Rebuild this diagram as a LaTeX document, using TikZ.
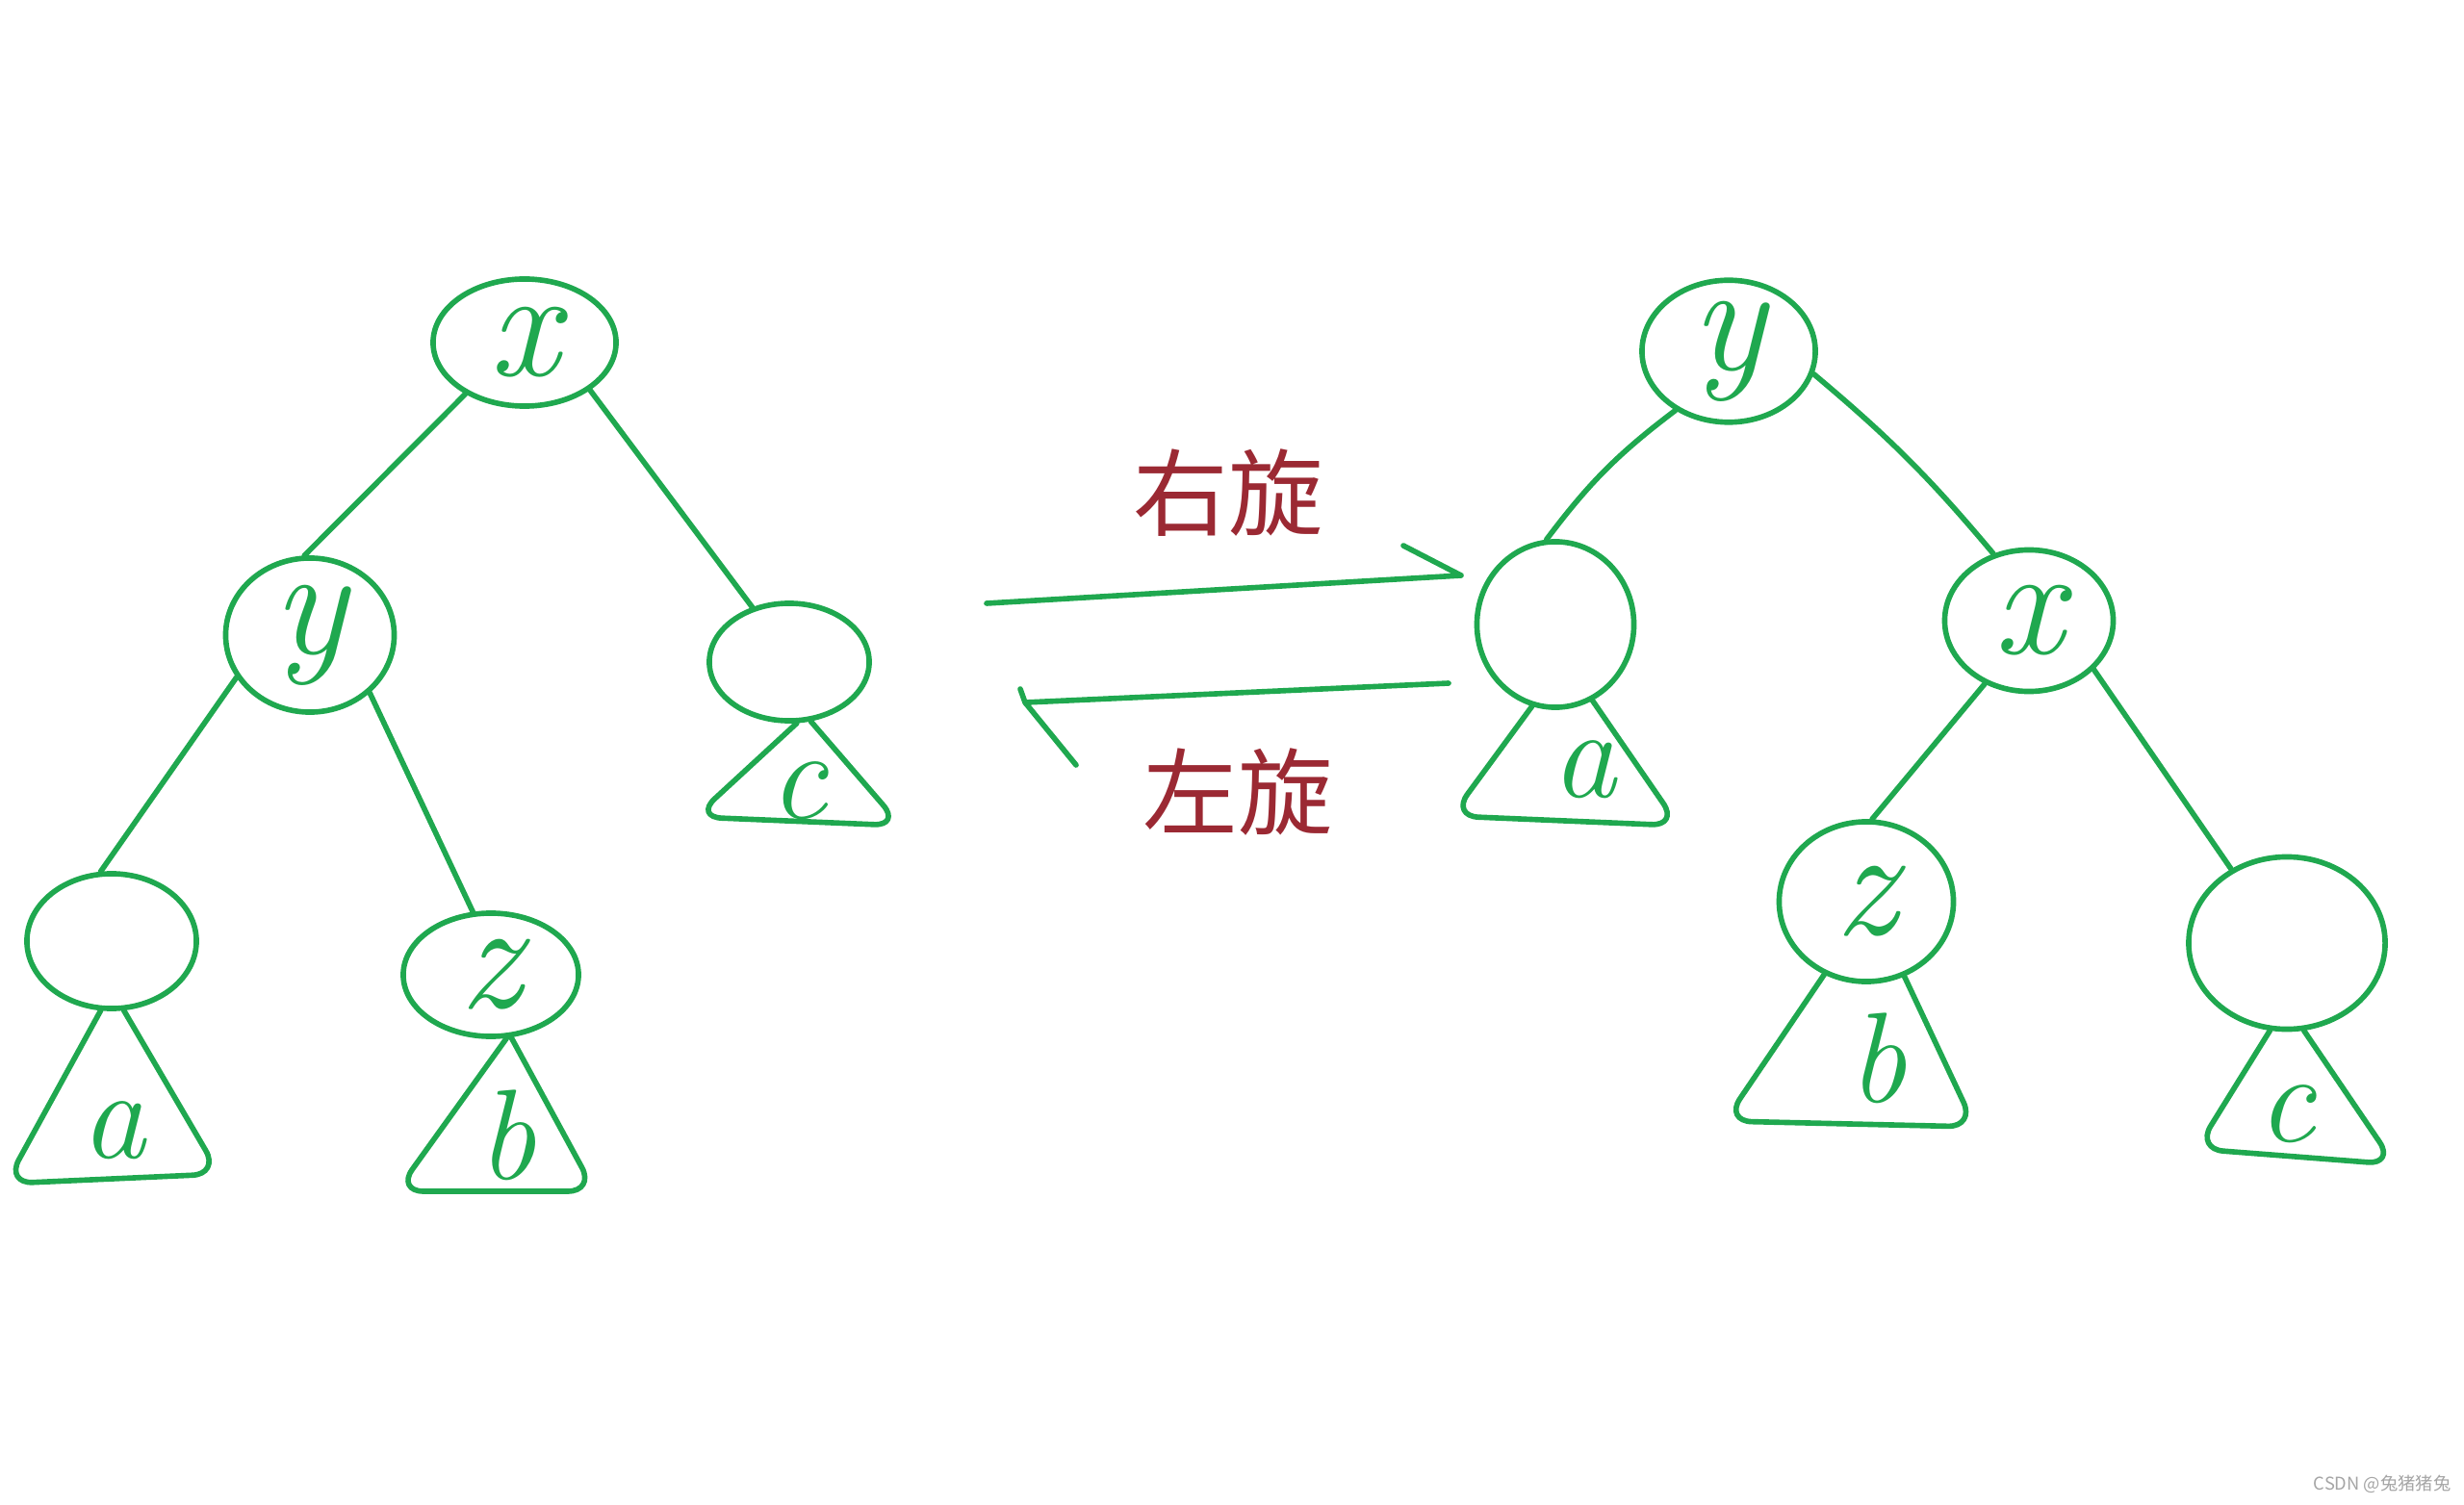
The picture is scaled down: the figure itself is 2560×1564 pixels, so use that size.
\documentclass[tikz,border=0pt]{standalone}
\usepackage{fontspec}
\newfontfamily\cjk{Noto Sans CJK SC}
\usetikzlibrary{shapes.geometric}
\definecolor{pen}{RGB}{31,168,79}
\definecolor{lbl}{RGB}{155,41,51}
\definecolor{wm}{RGB}{165,165,165}
\begin{document}
\begin{tikzpicture}[x=0.01cm,y=-0.01cm,
  line cap=round, line join=round,
  tnode/.style={draw=pen, ellipse, inner sep=0pt, line width=1.6pt, text=pen,
    font=\fontsize{46}{46}\selectfont\itshape},
  letter/.style={text=pen, inner sep=0pt, font=\fontsize{38}{38}\selectfont\itshape},
  edge/.style={draw=pen, line width=1.6pt},
  sub/.style={draw=pen, line width=1.6pt, rounded corners=8pt},
  rot/.style={text=lbl, inner sep=0pt, font=\cjk\fontsize{28}{28}\selectfont}]
\useasboundingbox[fill=white] (0,0) rectangle (2560,1564);

% ---------- left tree ----------
\node[tnode, minimum width=1.90cm, minimum height=1.32cm] (Lx) at (545,356) {x};
\node[tnode, minimum width=1.75cm, minimum height=1.60cm] (Ly) at (322,660) {y};
\node[tnode, minimum width=1.76cm, minimum height=1.40cm] (La) at (116,978) {};
\node[tnode, minimum width=1.82cm, minimum height=1.28cm] (Lz) at (510,1013) {z};
\node[tnode, minimum width=1.66cm, minimum height=1.22cm] (Lc) at (820,688) {};

\draw[edge] (Lx.221) -- (Ly.94);
\draw[edge] (Lx.324) -- (Lc.124);
\draw[edge] (Ly.210) -- (La.99);
\draw[edge] (Ly.316) -- (Lz.106);

\draw[sub] (La.261) -- (6,1230) -- (228,1220) -- (La.280);
\draw[sub] (Lz.284) -- (412,1238) -- (618,1238) -- (Lz.288);
\draw[sub] (Lc.277) -- (722,849) -- (936,858) -- (Lc.290);
\node[letter] (ta) at (118,1175) {a};
\node[letter] (tb) at (527,1180) {b};
\node[letter] (tc) at (830,822) {c};

% ---------- right tree ----------
\node[tnode, minimum width=1.80cm, minimum height=1.28cm] (Ry) at (1796,365) {y};
\node[tnode, minimum width=1.63cm, minimum height=1.72cm] (Ra) at (1616,649) {};
\node[tnode, minimum width=1.75cm, minimum height=1.47cm] (Rx) at (2108,645) {x};
\node[tnode, minimum width=1.81cm, minimum height=1.66cm] (Rz) at (1939,937) {z};
\node[tnode, minimum width=2.04cm, minimum height=1.79cm] (Rc) at (2376,980) {};

\draw[edge] (Ry.228) to[bend right=8] (Ra.96);
\draw[edge] (Ry.345) to[bend left=5] (Rx.118);
\draw[edge] (Rx.235) -- (Rz.86);
\draw[edge] (Rx.323) -- (Rc.127);

\draw[sub] (Ra.254) -- (1508,848) -- (1744,858) -- (Ra.296);
\draw[sub] (Rz.240) -- (1792,1165) -- (2052,1171) -- (Rz.297);
\draw[sub] (Rc.259) -- (2282,1194) -- (2488,1210) -- (Rc.281);
\node[letter] (ra) at (1646,800) {a};
\node[letter] (rb) at (1951,1100) {b};
\node[letter] (rc) at (2376,1158) {c};

% ---------- arrows ----------
\coordinate (r1) at (1025,627);
\coordinate (r2) at (1518,598);
\coordinate (r3) at (1458,567);
\draw[edge] (r1) -- (r2) -- (r3);
\coordinate (l1) at (1505,710);
\coordinate (l2) at (1065,730);
\coordinate (l3) at (1118,795);
\coordinate (l4) at (1060,716);
\draw[edge] (l1) -- (l2) -- (l3);
\draw[edge] (l4) -- (l2);

\node[rot] (t1) at (1276,512) {右旋};
\node[rot] (t2) at (1286,823) {左旋};

\node[text=wm, inner sep=0pt, anchor=east, font=\cjk\fontsize{5.2}{6}\selectfont] (wmk) at (2547,1542) {CSDN @兔猪猪兔};
\end{tikzpicture}
\end{document}
